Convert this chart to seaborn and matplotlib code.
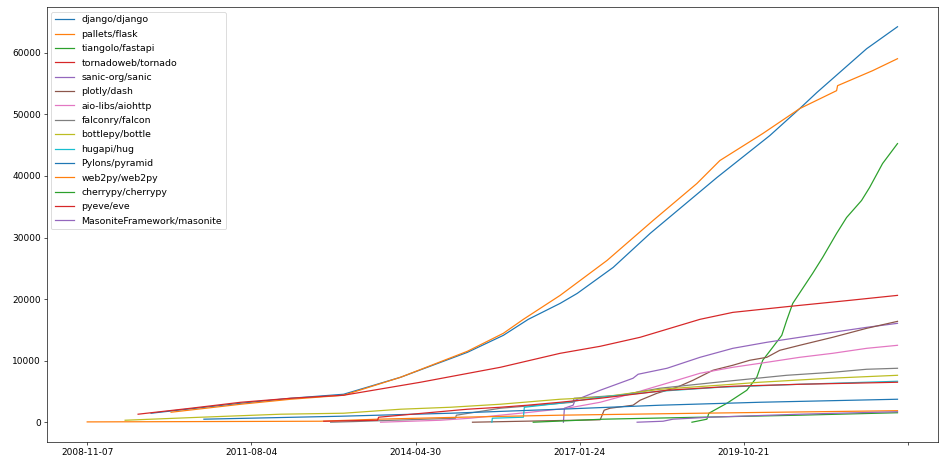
import matplotlib
matplotlib.use("Agg")
import matplotlib.pyplot as plt
import pandas as pd
import seaborn as sns

plt.rcParams["font.family"] = ["DejaVu Sans"]
plt.rcParams["font.size"] = 11

# (date, stars)
django = [("2009-12-01", 1460), ("2011-06-01", 3080), ("2012-03-31", 3890), ("2013-02-16", 4540),
          ("2014-01-29", 7300), ("2015-03-12", 11350), ("2015-10-17", 14110), ("2016-03-17", 16710),
          ("2016-09-27", 19300), ("2017-01-09", 20920), ("2017-08-16", 25140), ("2018-03-29", 30660),
          ("2019-05-10", 39740), ("2020-03-27", 46550), ("2020-09-25", 50930), ("2021-01-07", 53530),
          ("2021-11-07", 60660), ("2022-05-14", 64230)]
flask = [("2010-04-02", 1620), ("2011-06-01", 2920), ("2012-03-31", 3730), ("2013-02-16", 4380),
         ("2014-01-29", 7300), ("2015-03-12", 11520), ("2015-10-17", 14440), ("2016-02-16", 16710),
         ("2016-09-27", 20600), ("2017-07-10", 26280), ("2018-04-16", 32760), ("2019-01-08", 38770),
         ("2019-05-28", 42500), ("2020-02-13", 46880), ("2020-09-25", 50930), ("2021-05-08", 53850),
         ("2021-05-14", 54660), ("2021-12-13", 57090), ("2022-05-14", 59040)]
fastapi = [("2018-12-09", 0), ("2019-03-10", 490), ("2019-03-22", 1460), ("2019-07-10", 3080),
           ("2019-11-08", 5190), ("2020-01-08", 7300), ("2020-02-13", 10060), ("2020-04-14", 12170),
           ("2020-06-08", 14110), ("2020-07-08", 16540), ("2020-08-14", 19300), ("2020-12-13", 24170),
           ("2021-02-12", 26760), ("2021-05-08", 30660), ("2021-07-08", 33250), ("2021-10-07", 36010),
           ("2021-11-25", 38120), ("2022-02-12", 42010), ("2022-05-14", 45250)]
tornado = [("2009-09-13", 1300), ("2010-08-01", 2270), ("2011-06-01", 3240), ("2012-03-31", 3890),
           ("2013-02-16", 4380), ("2014-05-30", 6490), ("2015-09-29", 8920), ("2016-09-27", 11190),
           ("2017-05-29", 12330), ("2018-01-27", 13790), ("2019-01-27", 16710), ("2019-08-15", 17840),
           ("2020-07-27", 18815), ("2021-07-26", 19790), ("2022-05-14", 20600)]
sanic = [("2016-10-17", 0), ("2016-10-23", 2270), ("2016-12-15", 2760), ("2016-12-27", 3570),
         ("2017-05-29", 5190), ("2017-12-15", 7140), ("2018-01-15", 7790), ("2018-07-10", 8760),
         ("2019-01-27", 10540), ("2019-08-15", 12000), ("2020-03-09", 12980), ("2020-09-25", 13790),
         ("2021-04-14", 14600), ("2021-11-07", 15410), ("2022-05-14", 16060)]
dash = [("2015-04-12", 0), ("2017-05-29", 400), ("2017-06-22", 1950), ("2017-07-28", 2270),
        ("2017-12-15", 2760), ("2018-01-27", 3570), ("2018-05-10", 4700), ("2018-09-09", 5680),
        ("2018-12-15", 6810), ("2019-04-16", 8440), ("2019-08-15", 9250), ("2019-11-26", 10060),
        ("2020-03-09", 10540), ("2020-05-27", 11680), ("2020-09-25", 12490), ("2021-04-14", 13790),
        ("2021-11-07", 15250), ("2022-05-14", 16380)]
aiohttp = [("2013-09-29", 0), ("2014-09-29", 320), ("2015-03-30", 650), ("2015-09-29", 1140),
           ("2016-03-29", 1620), ("2016-11-09", 2270), ("2017-05-29", 3240), ("2017-12-15", 4700),
           ("2018-07-10", 6330), ("2019-01-27", 7950), ("2019-08-15", 8920), ("2020-03-09", 9730),
           ("2020-09-25", 10540), ("2021-04-14", 11190), ("2021-11-07", 12000), ("2022-05-14", 12490)]
falcon = [("2012-11-29", 0), ("2013-04-18", 100), ("2013-09-29", 250), ("2014-12-29", 650),
          ("2015-01-04", 1140), ("2015-09-29", 2270), ("2016-12-15", 3240), ("2016-12-21", 3890),
          ("2017-09-27", 4380), ("2018-05-28", 5520), ("2019-05-10", 6490), ("2020-07-08", 7620),
          ("2021-04-14", 8110), ("2021-11-07", 8600), ("2022-05-14", 8760)]
bottle = [("2009-06-26", 320), ("2010-10-01", 810), ("2012-01-30", 1300), ("2013-02-16", 1460),
          ("2014-01-29", 2110), ("2014-11-29", 2430), ("2015-09-29", 2920), ("2016-09-27", 3730),
          ("2017-05-29", 4050), ("2018-05-28", 5350), ("2019-08-15", 6160), ("2020-01-26", 6490),
          ("2021-03-27", 7140), ("2022-05-14", 7620)]
hug = [("2015-08-08", 0), ("2015-08-11", 650), ("2016-02-16", 810), ("2016-02-22", 2430),
       ("2016-09-27", 3080), ("2017-05-29", 4050), ("2018-05-28", 5030), ("2019-05-28", 5680),
       ("2020-09-25", 6160), ("2022-05-14", 6650)]
pyramid = [("2010-10-19", 490), ("2013-01-29", 970), ("2014-11-29", 1460), ("2016-09-27", 2110),
           ("2018-05-28", 2760), ("2020-01-26", 3240), ("2022-05-14", 3730)]
web2py = [("2008-11-07", 50), ("2012-09-29", 160), ("2013-09-11", 490), ("2015-01-29", 810),
          ("2016-09-27", 1140), ("2019-01-27", 1460), ("2022-05-14", 1870)]
cherrypy = [("2016-04-16", 0), ("2017-06-16", 490), ("2019-01-27", 810), ("2020-09-25", 1140),
            ("2022-05-14", 1540)]
eve = [("2012-10-18", 160), ("2013-09-11", 320), ("2013-09-17", 810), ("2015-03-12", 2110),
       ("2015-09-29", 2430), ("2016-03-11", 2760), ("2016-09-27", 3240), ("2017-05-29", 3890),
       ("2018-07-10", 5190), ("2019-08-15", 5840), ("2020-09-25", 6160), ("2022-05-14", 6490)]
masonite = [("2018-01-09", 0), ("2018-06-16", 160), ("2018-08-15", 490), ("2019-03-28", 810),
            ("2020-09-25", 1300), ("2022-05-14", 1700)]

repos = ["django/django", "pallets/flask", "tiangolo/fastapi", "tornadoweb/tornado", "sanic-org/sanic",
         "plotly/dash", "aio-libs/aiohttp", "falconry/falcon", "bottlepy/bottle", "hugapi/hug",
         "Pylons/pyramid", "web2py/web2py", "cherrypy/cherrypy", "pyeve/eve", "MasoniteFramework/masonite"]
series = [django, flask, fastapi, tornado, sanic, dash, aiohttp, falcon, bottle, hug,
          pyramid, web2py, cherrypy, eve, masonite]

tick_dates = ["2008-11-07", "2011-08-04", "2014-04-30", "2017-01-24", "2019-10-21", "2022-07-17"]
tick_labels = ["2008-11-07", "2011-08-04", "2014-04-30", "2017-01-24", "2019-10-21", ""]

fig, ax = plt.subplots(figsize=(945 / 59, 465 / 59), dpi=59)
colors = sns.color_palette("tab10", 10)

for i, (name, points) in enumerate(zip(repos, series)):
    df = pd.DataFrame(points, columns=["date", "stars"])
    df["date"] = pd.to_datetime(df["date"])
    sns.lineplot(data=df, x="date", y="stars", label=name, color=colors[i % 10], ax=ax)

ax.set_xticks(pd.to_datetime(tick_dates))
ax.set_xticklabels(tick_labels)
ax.set_xlabel("")
ax.set_ylabel("")
ax.legend(loc="upper left", fontsize=11.5, labelspacing=0.57)

fig.subplots_adjust(left=0.0494, right=0.9926, top=0.985, bottom=0.0495)
fig.savefig("out.png", dpi=59)
